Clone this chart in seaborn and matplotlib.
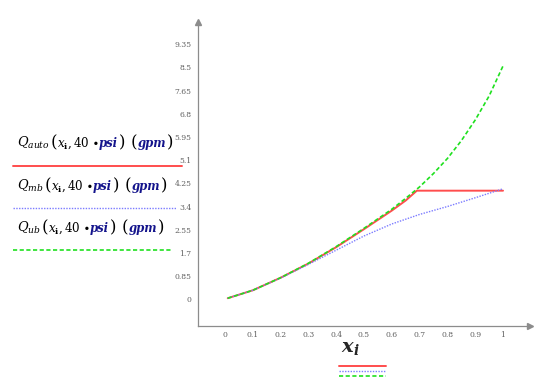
import numpy as np
import pandas as pd
import matplotlib
matplotlib.use("Agg")
import matplotlib.pyplot as plt
from matplotlib.lines import Line2D
import seaborn as sns

sns.set_style("white")
plt.rcParams['mathtext.fontset'] = 'dejavuserif'
plt.rcParams['font.family'] = ['DejaVu Serif']

# values (x_i, flow in gpm)
x_auto = [0.01, 0.1, 0.2, 0.3, 0.4, 0.5, 0.6, 0.65, 0.69, 0.8, 0.9, 1.0]
q_auto = [0.04, 0.33, 0.79, 1.31, 1.91, 2.57, 3.25, 3.62, 3.98, 3.98, 3.98, 3.98]

x_mb = [0.01, 0.1, 0.2, 0.3, 0.4, 0.5, 0.6, 0.7, 0.8, 0.9, 1.0]
q_mb = [0.04, 0.33, 0.78, 1.28, 1.80, 2.32, 2.76, 3.11, 3.40, 3.72, 4.05]

x_ub = [0.01, 0.1, 0.2, 0.3, 0.4, 0.5, 0.6, 0.65, 0.7, 0.75, 0.8, 0.85, 0.9, 0.95, 1.0]
q_ub = [0.04, 0.33, 0.79, 1.32, 1.93, 2.60, 3.30, 3.70, 4.12, 4.61, 5.16, 5.81, 6.57, 7.45, 8.55]

xticks = [0, 0.1, 0.2, 0.3, 0.4, 0.5, 0.6, 0.7, 0.8, 0.9, 1]
xtick_labels = ["0", "0.1", "0.2", "0.3", "0.4", "0.5", "0.6", "0.7", "0.8", "0.9", "1"]
yticks = [0, 0.85, 1.7, 2.55, 3.4, 4.25, 5.1, 5.95, 6.8, 7.65, 8.5, 9.35]
ytick_labels = ["0", "0.85", "1.7", "2.55", "3.4", "4.25", "5.1", "5.95", "6.8", "7.65", "8.5", "9.35"]

RED = "#ff4d4d"
BLUE = "#7b7bff"
GREEN = "#1fe01f"
NAVY = "#14148c"
GRAY = "#8c8c8c"

fig = plt.figure(figsize=(5.4, 3.82), dpi=100)
ax = fig.add_axes([198/540, 1 - 325.7/382, 332/540, (325.7-22)/382])

sns.lineplot(x=x_auto, y=q_auto, ax=ax, color=RED, lw=1.4, estimator=None, sort=False)
sns.lineplot(x=x_mb, y=q_mb, ax=ax, color=BLUE, lw=1.0, ls=(0, (1, 1)), estimator=None, sort=False)
sns.lineplot(x=x_ub, y=q_ub, ax=ax, color=GREEN, lw=1.2, ls=(0, (2.5, 1.5)), estimator=None, sort=False)

ax.set_xlim(-0.097, 1.097)
ax.set_ylim(-0.967, 10.16)
ax.set_xticks(xticks)
ax.set_xticklabels(xtick_labels)
ax.set_yticks(yticks)
ax.set_yticklabels(ytick_labels)
ax.tick_params(axis='both', labelsize=5.5, colors=GRAY, labelcolor="#606060", length=3, width=0.8, pad=1.5)
ax.tick_params(axis='x', direction='inout', length=4)
for s in ['top', 'right']:
    ax.spines[s].set_visible(False)
for s in ['left', 'bottom']:
    ax.spines[s].set_color(GRAY)
    ax.spines[s].set_linewidth(0.9)
ax.plot([0], [1], marker='^', ms=4, color=GRAY, transform=ax.transAxes, clip_on=False)
ax.plot([1], [0], marker='>', ms=4, color=GRAY, transform=ax.transAxes, clip_on=False)

ax.set_xlabel(r'$\mathbfit{x}_{\mathbfit{i}}$', fontsize=14)
ax.xaxis.set_label_coords(0.458, -0.045)
ax.xaxis.label.set_va('top')

# left-hand y labels built from pieces (colors differ within one label)
r = fig.canvas.get_renderer()

def put_parts(x0, y_px, parts):
    x = x0 / 540
    y = 1 - y_px / 382
    for s, kw in parts:
        if isinstance(s, (int, float)):
            x += s / 540
            continue
        t = fig.text(x, y, s, va='baseline', **kw)
        bb = t.get_window_extent(renderer=r)
        x += bb.width / fig.bbox.width

def q_label(sub):
    blk = dict(fontsize=8.6, color='black')
    par = dict(fontsize=12, color='black')
    blu = dict(fontsize=8.4, color=NAVY, fontstyle='italic', fontweight='bold')
    return [
        (r'$Q_{%s}$' % sub, dict(fontsize=9.4, color='black')),
        (r'$($', par),
        (r'$x_{\mathbf{i}},40\,\bullet\,$', blk),
        ('psi', blu),
        (r'$)$', par),
        (5, None),
        (r'$($', par),
        ('gpm', blu),
        (r'$)$', par),
    ]

put_parts(17, 147, q_label('auto'))
put_parts(17, 190, q_label('mb'))
put_parts(17, 232, q_label('ub'))

fig.add_artist(Line2D([12.7/540, 181.7/540], [1 - 165.7/382] * 2, color=RED, lw=1.4))
fig.add_artist(Line2D([12.7/540, 175.7/540], [1 - 208.3/382] * 2, color=BLUE, lw=1.0, ls=(0, (1, 1))))
fig.add_artist(Line2D([12.7/540, 171.7/540], [1 - 250/382] * 2, color=GREEN, lw=1.2, ls=(0, (2.5, 1.5))))

# legend keys under the x label
fig.add_artist(Line2D([339.3/540, 385.7/540], [1 - 365.7/382] * 2, color=RED, lw=1.4))
fig.add_artist(Line2D([339.3/540, 385.7/540], [1 - 371/382] * 2, color=BLUE, lw=1.0, ls=(0, (1, 1))))
fig.add_artist(Line2D([339.3/540, 385.7/540], [1 - 376.3/382] * 2, color=GREEN, lw=1.2, ls=(0, (2.5, 1.5))))

fig.savefig("out.png", dpi=100)
